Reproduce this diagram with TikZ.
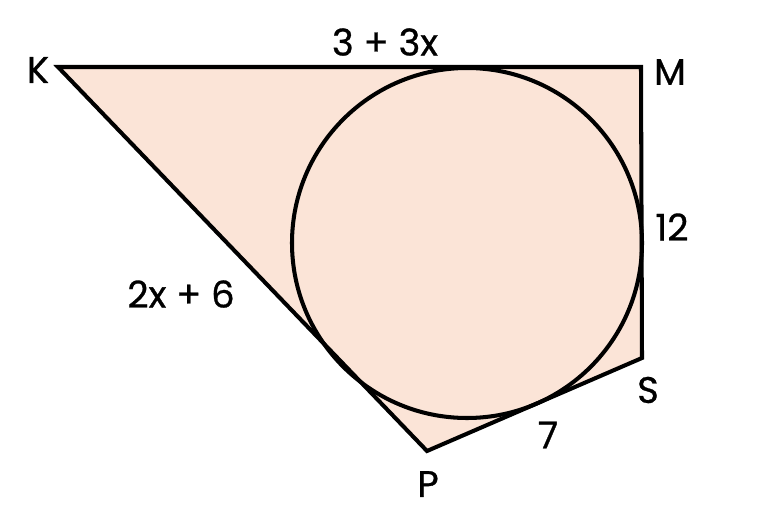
\documentclass[tikz,border=0pt]{standalone}
\usepackage{fontspec}
\setmainfont{Poppins}
\newfontfamily\lblfont{Poppins}[FakeBold=0.8]
\usetikzlibrary{positioning}
\definecolor{peach}{HTML}{FBE4D7}

\begin{document}
\begin{tikzpicture}[
    x=0.02cm, y=-0.02cm,
    edge/.style={draw=black, line width=2.3pt, line join=miter},
    lbl/.style={inner sep=0pt, font=\lblfont\fontsize{21}{25}\selectfont}
]
\useasboundingbox (0,0) rectangle (768,530);

% Vertices
\coordinate (K) at (58,67);
\coordinate (M) at (641,67);
\coordinate (S) at (642,358);
\coordinate (P) at (427,451);
\coordinate (O) at (467,243);

% Shape
\fill[peach] (K) -- (M) -- (S) -- (P) -- cycle;
\draw[edge] (O) circle[radius=175];
\draw[edge] (K) -- (M) -- (S) -- (P) -- cycle;

% Labels
\node[lbl] (lK) at (38,70) {K};
\node[lbl] (lM) at (670,72) {M};
\node[lbl] (lS) at (648,390) {S};
\node[lbl] (lP) at (428,484) {P};
\node[lbl] (lKM) at (385,42) {3 + 3x};
\node[lbl] (lMS) at (672,227) {12};
\node[lbl] (lKP) at (181,294) {2x + 6};
\node[lbl] (lSP) at (548,435) {7};

\end{tikzpicture}
\end{document}
